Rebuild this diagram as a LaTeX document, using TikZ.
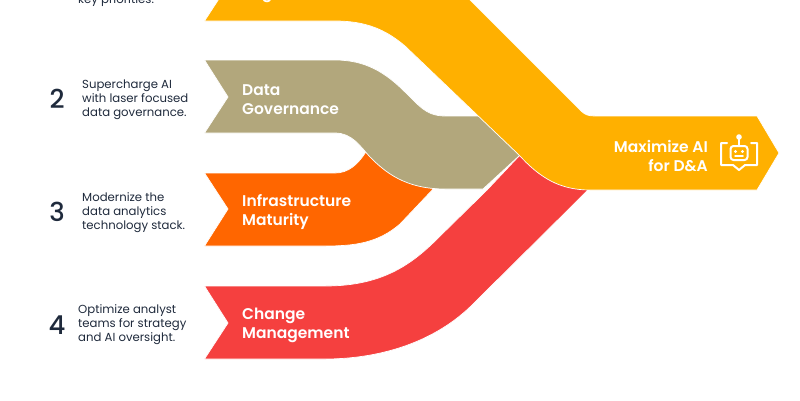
\documentclass[tikz,border=0pt]{standalone}
\usepackage{fontspec}
\setmainfont{Poppins}
\newfontfamily\labfont{Poppins SemiBold}
\newfontfamily\numfont{Poppins Medium}
\definecolor{cyel}{HTML}{FFB000}
\definecolor{ctan}{HTML}{B2A77C}
\definecolor{corg}{HTML}{FF6600}
\definecolor{cred}{HTML}{F5403F}
\definecolor{cink}{HTML}{1F2A3C}
\tikzset{
  band/.style={draw=white,line width=0.7pt,line join=miter},
  lab/.style={text=white,font=\labfont\fontsize{15.5}{19}\selectfont,align=left,anchor=west,inner sep=0pt},
  desc/.style={text=cink,font=\fontsize{11.7}{14}\selectfont,align=left,anchor=west,inner sep=0pt},
  num/.style={text=cink,font=\numfont\fontsize{26}{26}\selectfont,anchor=center,inner sep=0pt},
  icon/.style={draw=white,line width=2pt,line cap=round,line join=round}
}
\begin{document}
\begin{tikzpicture}[x=1pt,y=-1pt]
\useasboundingbox (0,0) rectangle (800,400);
\begin{scope}
\clip (0,0) rectangle (800,400);
% red band
\fill[cred,band] (204.5,286) -- (228,323) -- (204.5,359) -- (325,359)
  .. controls (375,359) and (430,345) .. (470,307) -- (590,188) -- (520,155) -- (487,190) -- (433,243)
  .. controls (405,270) and (375,286) .. (325,286) -- cycle;
% orange band
\fill[corg,band] (204.5,173) -- (228,209) -- (204.5,246) -- (325,246)
  .. controls (355,246) and (378,243) .. (400,224) -- (436,186) -- (367,150)
  .. controls (358,165) and (348,173) .. (335,173) -- cycle;
% tan band
\fill[ctan,band] (204.5,60) -- (228,97) -- (204.5,133) -- (335,133)
  .. controls (352,133) and (360,146) .. (370,157)
  .. controls (385,172) and (405,189) .. (445,189)
  -- (483,189) -- (520,155) -- (483,116) -- (445,116)
  .. controls (425,116) and (418,104) .. (405,92)
  .. controls (385,72) and (365,60) .. (335,60) -- cycle;
% yellow band
\fill[cyel,band] (204.5,-52) -- (228,-15) -- (204.5,21) -- (335,21)
  .. controls (365,21) and (385,29) .. (405,46)
  -- (519,155)
  .. controls (540,178) and (560,190) .. (590,190)
  -- (757,190) -- (779,153) -- (757,116) -- (595,116)
  .. controls (588,116) and (585,115) .. (580,110)
  -- (470,0) -- (420,-52) -- cycle;
\end{scope}
% labels
\node[lab] (l0) at (242,-5) {Alignment};
\node[lab] (l2) at (242,99.5) {Data\\Governance};
\node[lab] (l3) at (242,212) {Infrastructure\\Maturity};
\node[lab] (l4) at (242,325.5) {Change\\Management};
\node[lab,align=right,anchor=east] (l1) at (708,156) {Maximize AI\\for D\&A};
% descriptions
\node[desc] (d1) at (78,1) {key priorities.};
\node[desc] (d2) at (82,99.5) {Supercharge AI\\with laser focused\\data governance.};
\node[desc] (d3) at (82,212.5) {Modernize the\\data analytics\\technology stack.};
\node[desc] (d4) at (78,325) {Optimize analyst\\teams for strategy\\and AI oversight.};
% numbers
\node[num] (n2) at (57,99) {2};
\node[num] (n3) at (57,212) {3};
\node[num] (n4) at (57,325) {4};
% icon
\fill[white] (739,137) circle (2.8);
\draw[icon] (739,138) -- (739,146);
\draw[icon,rounded corners=3pt] (730.5,146) rectangle (747.5,160);
\fill[white] (735.5,151.5) circle (1.6) (742.5,151.5) circle (1.6);
\draw[icon,line width=1.5pt] (735,156) -- (743,156);
\draw[icon] (727,143) -- (721,143) -- (721,165) -- (733,165) -- (739,170) -- (745,165) -- (757,165) -- (757,143) -- (751,143);
\end{tikzpicture}
\end{document}
